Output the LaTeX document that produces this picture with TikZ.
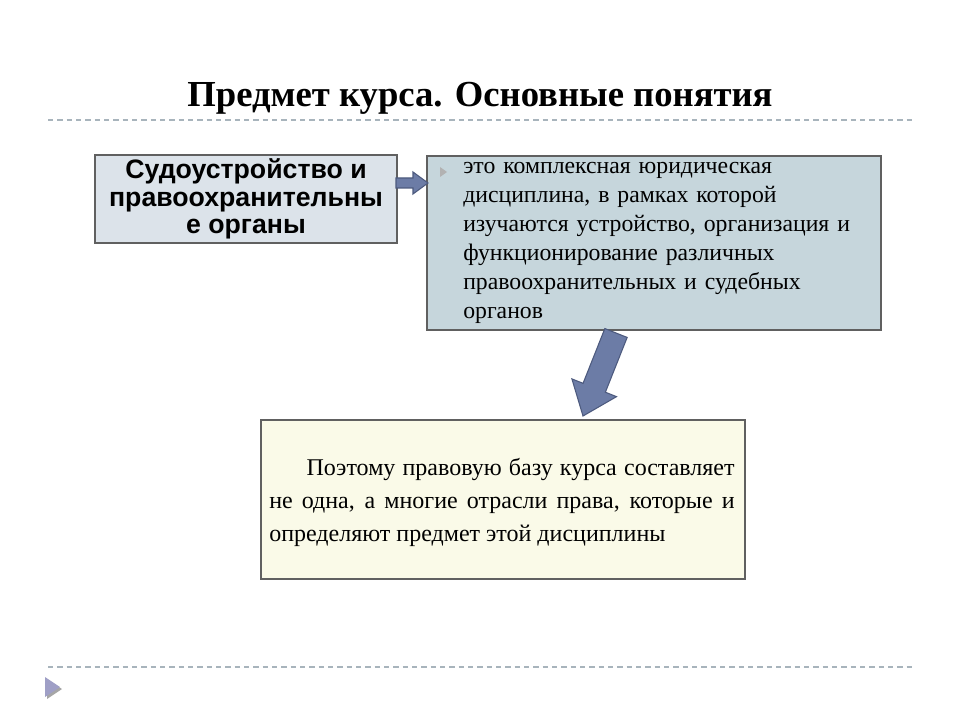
\documentclass[tikz,border=0pt]{standalone}
\usepackage{fontspec}
\setmainfont{Liberation Serif}
\setsansfont{Liberation Sans}
\usetikzlibrary{calc}
\usetikzlibrary{positioning}
\definecolor{boxone}{HTML}{DCE3EA}
\definecolor{boxtwo}{HTML}{C6D6DC}
\definecolor{boxthree}{HTML}{FAFAE8}
\definecolor{arrfill}{HTML}{6C7CA6}
\definecolor{arrline}{HTML}{4D5A7E}
\definecolor{rule}{HTML}{A8B4BC}
\begin{document}
\begin{tikzpicture}[x=0.75pt, y=-0.75pt]
    \tikzstyle{sep}=[rule, dashed, dash pattern=on 4pt off 3pt, line width=0.8pt]
    \tikzstyle{card}=[draw=gray!75!black, line width=1.2pt, anchor=north west, inner sep=0pt]
    \tikzstyle{fat}=[fill=arrfill, draw=arrline, line width=0.8pt, line join=miter]
    \tikzstyle{bul}=[fill=gray!60, draw=none]
    \useasboundingbox (0,0) rectangle (960,720);
    \node[font=\bfseries\fontsize{27.5}{30}\selectfont] (title) at (480,98) {Предмет курса. Основные понятия};
    \coordinate (r1a) at (48,120); \coordinate (r1b) at (912,120);
    \coordinate (r2a) at (48,667); \coordinate (r2b) at (912,667);
    \draw[sep] (r1a) -- (r1b);
    \draw[sep] (r2a) -- (r2b);
    % boxes
    \draw[card, fill=boxone] (95,155) rectangle (397,243);
    \node[align=center, font=\sffamily\bfseries\fontsize{20}{20.5}\selectfont] (subj) at (246,199)
      {Судоустройство и\\ правоохранительны\\ е органы};
    \draw[card, fill=boxtwo] (427,156) rectangle (881,330);
    \node[anchor=north west, text width=330pt, align=left, inner sep=0pt,
      font=\fontsize{17.8}{21.8}\selectfont] (defn) at (463,162)
      {это комплексная юридическая\\ дисциплина, в рамках которой\\ изучаются устройство, организация и\\
       функционирование различных\\ правоохранительных и судебных\\ органов};
    \fill[bul] (440,167) -- (447,172) -- (440,177) -- cycle;
    \draw[card, fill=boxthree] (261,420) rectangle (745,579);
    \node[anchor=north west, text width=349pt, align=justify, inner sep=0pt,
      font=\fontsize{18}{24.8}\selectfont] (base) at (269,458)
      {\hspace*{28pt}Поэтому правовую базу курса составляет не одна, а многие отрасли права, которые и определяют предмет этой дисциплины};
    % block arrows
    \coordinate (a1s) at (396,183); \coordinate (a1e) at (428,183);
    \draw[fat] (396,178) -- (413,178) -- (413,172) -- (428,183) -- (413,194) -- (413,188) -- (396,188) -- cycle;
    \coordinate (a2s) at (616,333); \coordinate (a2e) at (583,416);
    \coordinate (a2h) at ($(a2s)!0.66!(a2e)$);
    \draw[fat] ($(a2s)!9pt!90:(a2e)$) -- ($(a2h)!9pt!-90:(a2s)$) -- ($(a2h)!18pt!-90:(a2s)$)
      -- (a2e) -- ($(a2h)!18pt!90:(a2s)$) -- ($(a2h)!9pt!90:(a2s)$) -- ($(a2s)!9pt!-90:(a2e)$) -- cycle;
    % nav triangle
    \fill[gray!70] (47,679) -- (62,689) -- (47,699) -- cycle;
    \fill[blue!25!gray!60] (45,677) -- (60,687) -- (45,697) -- cycle;
\end{tikzpicture}
\end{document}
